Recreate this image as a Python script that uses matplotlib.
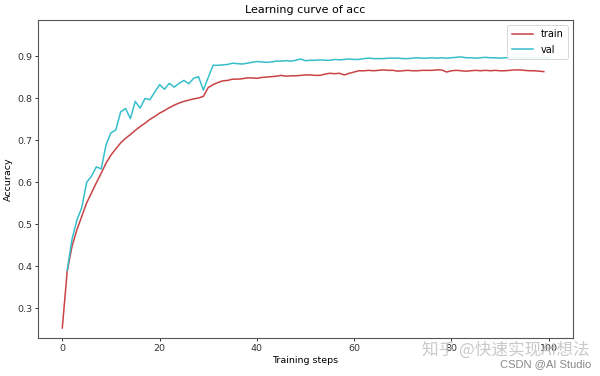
import matplotlib
matplotlib.use("Agg")
import matplotlib.pyplot as plt
import numpy as np

train_steps = list(range(0, 100))
val_steps = list(range(1, 101))

train_acc = [
    0.253, 0.388, 0.448, 0.487, 0.519, 0.551, 0.575, 0.599, 0.622, 0.646,
    0.665, 0.680, 0.694, 0.705, 0.714, 0.724, 0.733, 0.741, 0.750, 0.757,
    0.765, 0.771, 0.778, 0.784, 0.789, 0.793, 0.796, 0.799, 0.801, 0.805,
    0.826, 0.833, 0.838, 0.842, 0.843, 0.846, 0.846, 0.847, 0.849, 0.849,
    0.848, 0.850, 0.851, 0.852, 0.853, 0.855, 0.853, 0.854, 0.854, 0.855,
    0.856, 0.856, 0.855, 0.855, 0.858, 0.860, 0.859, 0.860, 0.856, 0.860,
    0.863, 0.866, 0.866, 0.867, 0.866, 0.867, 0.868, 0.867, 0.867, 0.865,
    0.866, 0.867, 0.866, 0.866, 0.867, 0.867, 0.867, 0.868, 0.868, 0.863,
    0.866, 0.867, 0.866, 0.865, 0.866, 0.867, 0.866, 0.867, 0.866, 0.867,
    0.866, 0.866, 0.867, 0.868, 0.868, 0.867, 0.866, 0.866, 0.865, 0.864,
]

val_acc = [
    0.390, 0.465, 0.510, 0.540, 0.600, 0.615, 0.637, 0.632, 0.690, 0.718,
    0.725, 0.768, 0.776, 0.752, 0.793, 0.777, 0.800, 0.797, 0.815, 0.833,
    0.822, 0.836, 0.827, 0.836, 0.843, 0.835, 0.848, 0.852, 0.820, 0.850,
    0.879, 0.879, 0.880, 0.881, 0.884, 0.883, 0.882, 0.884, 0.886, 0.888,
    0.887, 0.886, 0.887, 0.889, 0.889, 0.890, 0.889, 0.891, 0.894, 0.890,
    0.891, 0.891, 0.892, 0.891, 0.891, 0.893, 0.892, 0.893, 0.894, 0.893,
    0.893, 0.895, 0.896, 0.895, 0.895, 0.895, 0.896, 0.896, 0.896, 0.895,
    0.895, 0.896, 0.897, 0.896, 0.896, 0.897, 0.896, 0.897, 0.896, 0.897,
    0.898, 0.899, 0.897, 0.897, 0.896, 0.897, 0.898, 0.897, 0.897, 0.896,
    0.897, 0.897, 0.898, 0.897, 0.896, 0.896, 0.897, 0.897, 0.897, 0.896,
]

title = "Learning curve of acc"
xlabel = "Training steps"
ylabel = "Accuracy"
labels = ["train", "val"]

plt.rcParams['font.family'] = ['DejaVu Sans', 'Noto Sans CJK SC']

fig = plt.figure(figsize=(6.0, 3.76), dpi=100)
ax = fig.add_axes([38/600, 1-338/376, (573-38)/600, (338-20)/376])

ax.plot(train_steps, train_acc, color='#c94345', lw=1.1, label=labels[0])
ax.plot(val_steps, val_acc, color='#35bfcb', lw=1.1, label=labels[1])

ax.set_xlim(-5, 105)
ax.set_ylim(0.229, 0.987)
ax.set_xticks([0, 20, 40, 60, 80, 100])
ax.set_yticks([0.3, 0.4, 0.5, 0.6, 0.7, 0.8, 0.9])
ax.tick_params(labelsize=6.8, length=2.2, width=0.7, colors='#333333', pad=2)
for s in ax.spines.values():
    s.set_color('#555555')
    s.set_linewidth(0.8)

ax.set_title(title, fontsize=8, pad=5)
ax.set_xlabel(xlabel, fontsize=6.8, labelpad=2)
ax.set_ylabel(ylabel, fontsize=6.8, labelpad=3)

leg = ax.legend(loc='upper right', fontsize=7, handlelength=2.2, borderpad=0.45,
                labelspacing=0.55, framealpha=0.9)
leg.get_frame().set_linewidth(0.6)

fig.text(590/600, 1-350/376, "知乎 @快速实现AI想法", fontsize=12, color='#c4c4c4',
         ha='right', va='center', family=['Noto Sans CJK SC', 'DejaVu Sans'], alpha=0.9)
fig.text(591/600, 1-364/376, "CSDN @AI Studio", fontsize=8, color='#888888',
         ha='right', va='center', family=['Liberation Sans', 'DejaVu Sans'])

fig.savefig("out.png", dpi=100)
